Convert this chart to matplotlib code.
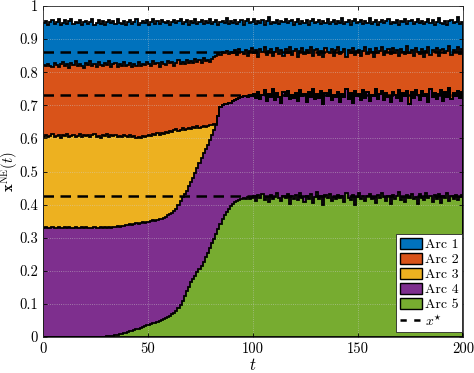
import numpy as np
import matplotlib
matplotlib.use("Agg")
import matplotlib.pyplot as plt
from matplotlib.patches import Patch
from matplotlib.lines import Line2D

plt.rcParams.update({
    "font.family": "serif",
    "font.serif": ["cmr10", "DejaVu Serif"],
    "mathtext.fontset": "cm",
    "axes.formatter.use_mathtext": True,
    "font.size": 10,
})

# ---- data (cumulative stacked levels, in thousandths), one value per t step 0..199 ----
arc_names = ["Arc 1", "Arc 2", "Arc 3", "Arc 4", "Arc 5"]
arc_colors = ["#0072BD", "#D95319", "#EDB120", "#7E2F8E", "#77AC30"]

# top of Arc 5 (green)
level_arc5 = (
    [0] * 30 +
    [2, 3, 3, 4, 5, 6, 8, 10, 12, 13] +
    [15, 17, 19, 21, 23, 25, 28, 30, 33, 35] +
    [37, 39, 41, 43, 46, 48, 51, 53, 57, 60] +
    [64, 68, 73, 80, 88, 98, 110, 125, 140, 152] +
    [165, 175, 185, 195, 205, 215, 228, 243, 255, 268] +
    [283, 297, 312, 327, 342, 356, 368, 378, 388, 395] +
    [402, 408, 412, 415, 418, 420, 416, 424, 418, 421] +
    [425, 412, 428, 419, 433, 415, 422, 408, 430, 418, 424, 436, 420, 411, 427, 419, 432, 403, 425, 417] +
    [429, 414, 435, 421, 409, 426, 418, 431, 404, 422, 437, 416, 425, 398, 428, 420, 433, 412, 424, 417] +
    [430, 419, 426, 408, 434, 421, 415, 428, 400, 423, 436, 418, 427, 411, 425, 432, 416, 421, 405, 429] +
    [419, 434, 423, 412, 427, 401, 430, 418, 425, 437, 414, 422, 409, 428, 420, 433, 416, 424, 402, 431] +
    [421, 413, 435, 419, 426, 408, 429, 417, 432, 404, 425, 420, 436, 411, 427, 418, 430, 415, 424, 428]
)

# top of Arc 4 (purple)
level_arc4 = (
    [330, 331, 329, 330, 332, 330, 329, 331, 330, 328, 331, 330, 332, 329, 330, 331, 329, 330, 332, 330] +
    [331, 329, 330, 328, 331, 330, 329, 332, 330, 331, 329, 333, 330, 332, 331, 334, 333, 335, 336, 338] +
    [338, 340, 339, 342, 343, 341, 344, 346, 345, 348] +
    [348, 350, 352, 351, 354, 356, 358, 361, 364, 368] +
    [372, 376, 381, 388, 398, 410, 423, 432, 440, 455] +
    [468, 480, 495, 510, 525, 540, 556, 568, 580, 595] +
    [610, 625, 640, 668, 696, 700, 703, 705, 706, 708] +
    [712, 716, 720, 722, 725, 727, 729, 724, 731, 728] +
    [735, 722, 741, 718, 730, 745, 712, 733, 726, 748, 715, 737, 724, 706, 739, 728, 744, 719, 732, 721] +
    [738, 713, 746, 727, 735, 709, 741, 725, 750, 718, 733, 722, 742, 704, 736, 729, 747, 716, 731, 724] +
    [740, 711, 734, 726, 749, 720, 738, 707, 743, 729, 735, 716, 745, 723, 739, 712, 731, 727, 750, 718] +
    [733, 744, 715, 738, 726, 709, 741, 730, 722, 747, 714, 736, 728, 743, 705, 739, 721, 746, 732, 717] +
    [742, 727, 735, 710, 748, 724, 738, 719, 733, 745, 713, 740, 726, 751, 718, 737, 729, 744, 721, 739]
)

# top of Arc 3 (yellow) while it is non-empty (t = 0..82); afterwards Arc 3 is empty
level_arc3_early = (
    [605, 610, 603, 608, 612, 604, 607, 611, 602, 609, 606, 613, 604, 608, 610, 603, 607, 612, 605, 609] +
    [606, 611, 603, 609, 614, 605, 608, 602, 610, 607, 612, 604, 609, 606, 611, 603, 608, 605, 610, 607] +
    [604, 609, 603, 606, 601, 605, 602, 607, 604, 608] +
    [610, 606, 612, 609, 615, 611, 617, 613, 620, 616] +
    [622, 618, 624, 627, 621, 626, 630, 625, 629, 632] +
    [628, 633, 630, 636, 631, 635, 638, 634, 637, 640] +
    [640, 642, 645]
)

# top of Arc 2 (orange)
level_arc2 = (
    [822, 818, 826, 820, 815, 829, 823, 817, 825, 831, 819, 824, 814, 828, 821, 833, 818, 826, 820, 812] +
    [827, 822, 835, 819, 825, 816, 830, 823, 818, 827, 821, 834, 817, 824, 829, 815, 826, 820, 832, 819] +
    [823, 828, 816, 825, 820, 830, 818, 826, 822, 831] +
    [825, 819, 833, 824, 828, 817, 830, 826, 821, 835] +
    [827, 832, 820, 829, 836, 824, 831, 826, 838, 829] +
    [833, 827, 840, 831, 836, 829, 843, 835, 838, 832] +
    [841, 846, 850, 856, 852, 860, 857, 863, 855, 861] +
    [858, 866, 852, 870, 861, 855, 868, 849, 864, 872, 857, 866, 845, 869, 860, 875, 853, 864, 871, 850] +
    [862, 874, 856, 867, 848, 870, 859, 876, 851, 865, 869, 846, 863, 872, 855, 868, 858, 877, 849, 866] +
    [870, 853, 864, 845, 873, 861, 857, 869, 850, 866, 875, 855, 862, 871, 847, 867, 859, 874, 852, 865] +
    [868, 849, 863, 876, 856, 870, 860, 846, 872, 858, 865, 877, 851, 864, 869, 854, 873, 857, 866, 848] +
    [871, 862, 855, 878, 859, 867, 850, 873, 861, 856, 870, 847, 865, 876, 853, 868, 862, 874, 849, 866] +
    [871, 857, 864, 880, 852, 868, 860, 875, 855, 869]
)

# top of Arc 1 (blue)
level_arc1 = (
    [948, 955, 943, 951, 958, 946, 953, 960, 944, 950, 957, 947, 954, 962, 945, 952, 949, 958, 943, 951] +
    [956, 947, 953, 961, 944, 950, 957, 946, 955, 942, 951, 959, 948, 954, 945, 960, 950, 947, 956, 943] +
    [952, 958, 946, 953, 961, 944, 950, 955, 948, 957, 943, 952, 960, 947, 954, 945, 958, 951, 949, 956] +
    [944, 953, 959, 948, 955, 962, 946, 951, 957, 943, 954, 949, 960, 947, 952, 958, 945, 955, 950, 961] +
    [947, 953, 958, 944, 951, 956, 948, 963, 945, 954, 950, 959, 946, 952, 957, 943, 955, 960, 948, 953] +
    [961, 946, 954, 950, 958, 944, 956, 966, 947, 953, 949, 959, 945, 955, 951, 962, 948, 954, 957, 943] +
    [953, 960, 947, 955, 950, 958, 944, 956, 962, 948, 952, 957, 946, 954, 949, 961, 945, 953, 958, 947] +
    [955, 950, 963, 946, 952, 957, 944, 954, 960, 948, 951, 958, 945, 956, 949, 964, 947, 953, 959, 944] +
    [952, 957, 948, 955, 961, 946, 953, 950, 959, 943, 956, 951, 962, 947, 954, 958, 945, 952, 960, 949] +
    [955, 946, 953, 961, 948, 957, 944, 952, 963, 950, 947, 956, 942, 954, 959, 948, 953, 966, 945, 951]
)

# equilibrium cumulative levels x*
x_star_levels = [0.426, 0.731, 0.861]

x_ticks = [0, 50, 100, 150, 200]
y_ticks = [0, 0.1, 0.2, 0.3, 0.4, 0.5, 0.6, 0.7, 0.8, 0.9, 1]

# ---- build stacked boundaries ----
l5 = np.array(level_arc5) / 1000.0
l4 = np.array(level_arc4) / 1000.0
l3 = l4.copy()
n3 = len(level_arc3_early)
l3[:n3] = np.maximum(np.array(level_arc3_early) / 1000.0, l4[:n3])
l2 = np.array(level_arc2) / 1000.0
l1 = np.array(level_arc1) / 1000.0
n = len(l5)
edges = np.arange(n + 1)

tops = [l1, l2, l3, l4, l5]
bottoms = [l2, l3, l4, l5, np.zeros(n)]

W, H = 474, 373
fig = plt.figure(figsize=(W / 100, H / 100), dpi=100)
ax = fig.add_axes([43 / W, (H - 337) / H, 420 / W, 331 / H])

for top, bot, col in zip(tops, bottoms, arc_colors):
    ax.stairs(top, edges, baseline=bot, fill=True, color=col, lw=0, zorder=1)
for top in tops + [np.zeros(n)]:
    ax.stairs(top, edges, color="k", lw=1.3, zorder=3)

for lv in x_star_levels:
    ax.plot([0, 200], [lv, lv], color="k", lw=1.8, dashes=(4.2, 2.6), zorder=4)

ax.set_xlim(0, 200)
ax.set_ylim(0, 1)
ax.set_xticks(x_ticks)
ax.set_yticks(y_ticks)
ax.set_yticklabels(["0", "0.1", "0.2", "0.3", "0.4", "0.5", "0.6", "0.7", "0.8", "0.9", "1"])
ax.set_xticklabels([str(v) for v in x_ticks])
ax.tick_params(direction="in", top=True, right=True, length=3, width=0.6, labelsize=10.5)
ax.set_axisbelow(False)
ax.grid(True, color="#d0d0d0", ls=":", lw=0.6, alpha=0.6, zorder=2)
for s in ax.spines.values():
    s.set_linewidth(0.6)
    s.set_color("#262626")
    s.set_zorder(5)

ax.set_xlabel(r"$t$", fontsize=12, va="top")
ax.xaxis.set_label_coords(0.5, -0.06)
ax.set_ylabel(r"$\mathbf{x}^{\mathrm{NE}}(t)$", fontsize=10.5)
ax.yaxis.set_label_coords(-0.054, 0.5)

handles = [Patch(facecolor=c, edgecolor="k", lw=1.0) for c in arc_colors]
handles.append(Line2D([0], [0], color="k", lw=1.8, dashes=(2.5, 3)))
labels = arc_names + [r"$x^{\star}$"]
leg = ax.legend(handles, labels, loc="lower right", fontsize=10, frameon=True,
                fancybox=False, framealpha=1, edgecolor="#262626",
                handlelength=1.6, handleheight=0.85, handletextpad=0.2,
                labelspacing=0.12, borderpad=0.25, borderaxespad=0,
                bbox_to_anchor=(462 / W, (H - 332) / H), bbox_transform=fig.transFigure)
leg.get_frame().set_linewidth(0.6)
leg.set_zorder(10)

fig.savefig("out.png", dpi=100)
